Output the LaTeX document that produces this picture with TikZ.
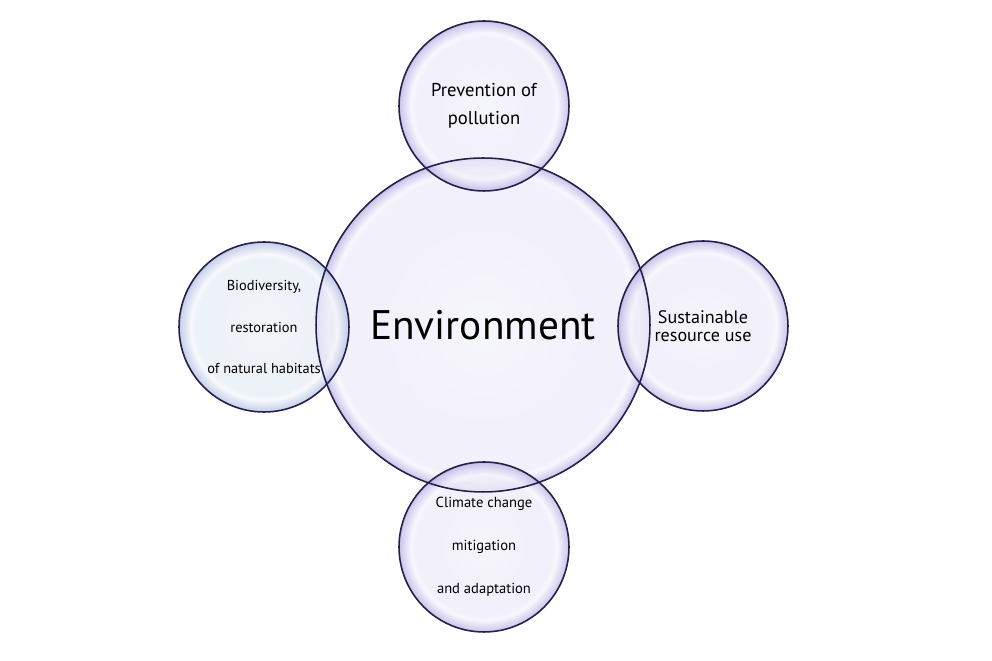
\documentclass[tikz,border=0pt]{standalone}
\usepackage{fontspec}
\setmainfont{PT Sans}
\usepackage{tikz}
\definecolor{rim}{RGB}{36,32,76}
\definecolor{lavin}{RGB}{243,242,251}
\definecolor{lavmid}{RGB}{237,235,249}
\definecolor{lavhi}{RGB}{245,244,252}
\definecolor{lavedge}{RGB}{220,215,242}
\definecolor{lavdeep}{RGB}{194,187,230}
\definecolor{lavout}{RGB}{172,164,219}
\definecolor{bluin}{RGB}{238,242,248}
\definecolor{blumid}{RGB}{231,236,245}
\definecolor{bluhi}{RGB}{244,246,251}
\definecolor{bluedge}{RGB}{214,222,239}
\definecolor{bludeep}{RGB}{188,198,229}
\definecolor{bluout}{RGB}{168,178,217}
\pgfdeclareradialshading{lavshade}{\pgfpoint{0bp}{0bp}}{color(0bp)=(lavin); color(15bp)=(lavmid); color(20bp)=(lavmid); color(21.5bp)=(lavhi); color(23bp)=(lavedge); color(24.5bp)=(lavdeep); color(25bp)=(lavout); color(50bp)=(lavout)}
\pgfdeclareradialshading{bigshade}{\pgfpoint{0bp}{0bp}}{color(0bp)=(lavin); color(18bp)=(lavmid); color(22.5bp)=(lavmid); color(23.3bp)=(lavhi); color(24bp)=(lavedge); color(24.7bp)=(lavdeep); color(25bp)=(lavout); color(50bp)=(lavout)}
\pgfdeclareradialshading{blushade}{\pgfpoint{0bp}{0bp}}{color(0bp)=(bluin); color(15bp)=(blumid); color(20bp)=(blumid); color(21.5bp)=(bluhi); color(23bp)=(bluedge); color(24.5bp)=(bludeep); color(25bp)=(bluout); color(50bp)=(bluout)}
\tikzstyle{bubble}=[circle, shading=lavshade, fill opacity=0.75, text opacity=1, inner sep=0pt, align=center, minimum size=3.4cm]
\tikzstyle{rimline}=[draw=rim, line width=0.9pt]

\begin{document}
\begin{tikzpicture}[x=0.02cm, y=-0.02cm]
		   \useasboundingbox (0, 0) rectangle (992, 661);
		   \begin{scope}
			   \node (env) at (483, 325)[bubble, shading=bigshade, minimum size=6.68cm, font=\fontsize{23.5}{26}\selectfont] {Environment};
			   \node (prev) at (484, 106)[bubble, font=\fontsize{10.6}{15.9}\selectfont] {Prevention of\\pollution};
			   \node (bio) at (264, 327)[bubble, shading=blushade, font=\fontsize{8.2}{23.8}\selectfont] {Biodiversity,\\restoration\\of natural habitats};
			   \node (sust) at (703, 326)[bubble, font=\fontsize{10.3}{10.4}\selectfont] {Sustainable\\resource use};
			   \node (clim) at (484, 547)[bubble, font=\fontsize{8.3}{24.4}\selectfont] {Climate change\\mitigation\\and adaptation};
		   \end{scope}
		   \begin{scope}
			   \draw [rimline] (env.center) circle [radius=3.34cm];
			   \draw [rimline] (prev.center) circle [radius=1.7cm];
			   \draw [rimline] (bio.center) circle [radius=1.7cm];
			   \draw [rimline] (sust.center) circle [radius=1.7cm];
			   \draw [rimline] (clim.center) circle [radius=1.7cm];
		   \end{scope}
	   \end{tikzpicture}
\end{document}
